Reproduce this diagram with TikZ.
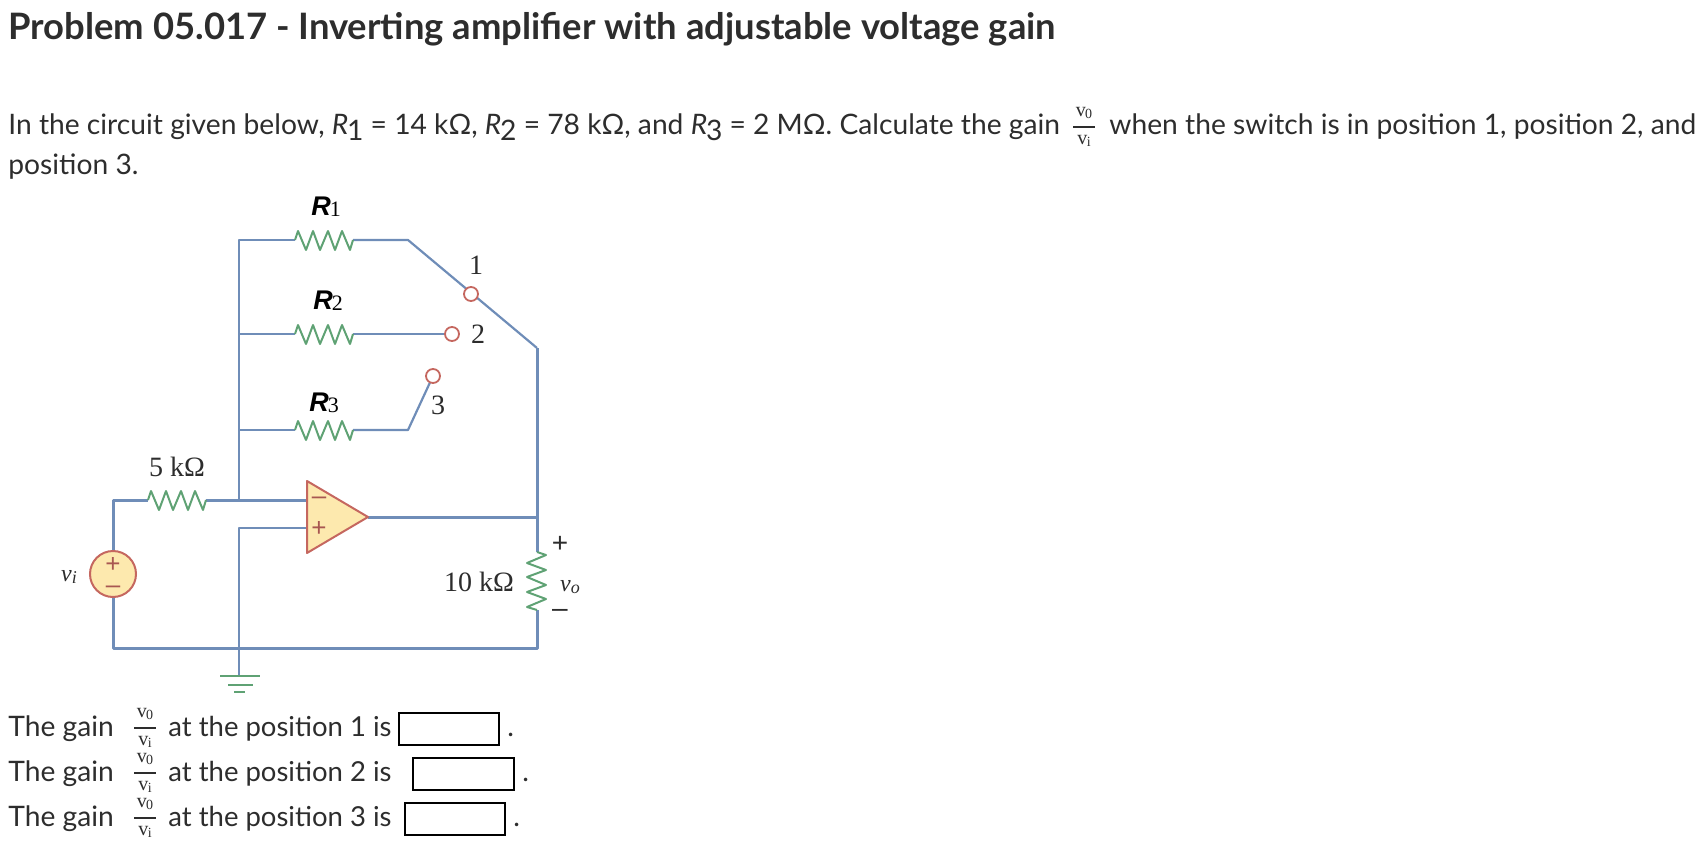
\documentclass[tikz,border=0pt]{standalone}
\usepackage{fontspec}
\setmainfont{Lato}
\newfontfamily\serifx{Liberation Serif}
\newfontfamily\sansx{Liberation Sans}
\definecolor{wire}{HTML}{6F8DB8}
\definecolor{res}{HTML}{5FA274}
\definecolor{term}{HTML}{C5675F}
\definecolor{fillc}{HTML}{FDE9AE}
\definecolor{txt}{HTML}{2D2D2D}
\newcommand{\sbx}[1]{\raisebox{-2.8pt}{#1}}
\newcommand{\Rx}[1]{\textit{R}\kern-0.6pt\sbx{#1}}
\newcommand{\gainfrac}[3]{%
  \node[rat] (#1a) at (#2,#3-14) {v\kern-0.3pt\raisebox{-1pt}{\fontsize{7}{7}\selectfont 0}};
  \node[rat] (#1b) at (#2,#3+14) {v\kern-0.3pt\raisebox{-1pt}{\fontsize{7}{7}\selectfont i}};
  \coordinate (#1m) at (#2,#3);
  \draw[txt,line width=0.7pt] ([xshift=-5.5pt]#1m) -- ([xshift=5.5pt]#1m);
}
\newcommand{\reszH}[2]{\draw[resz] (#1) -- ++(3,-9) -- ++(8,19) -- ++(7,-19) -- ++(7,19) -- ++(8,-19) -- ++(7,19) -- ++(7,-19) -- ++(8,19) -- (#2);}
\newcommand{\reszV}[2]{\draw[resz] (#1) -- ++(9,3) -- ++(-19,8) -- ++(19,7) -- ++(-19,7) -- ++(19,8) -- ++(-19,7) -- ++(19,7) -- ++(-19,8) -- (#2);}
\tikzset{
  x=0.5pt,y=-0.5pt,
  wirel/.style={draw=wire,line width=1.1pt,line join=round},
  wireb/.style={draw=wire,line width=1.5pt,line join=round},
  resz/.style={draw=res,line width=1pt,line join=round},
  termc/.style={circle,draw=term,line width=0.9pt,fill=white,minimum size=7pt,inner sep=0pt},
  body/.style={font=\fontsize{14.1}{14.1}\selectfont,text=txt,inner sep=0pt,anchor=base west},
  bodyb/.style={font=\fontsize{13.75}{13.75}\selectfont,text=txt,inner sep=0pt,anchor=base west},
  headl/.style={font=\fontsize{18.2}{18.2}\selectfont\bfseries,text=txt,inner sep=0pt,anchor=base west},
  ser/.style={font=\serifx\fontsize{14}{14}\selectfont,text=txt,inner sep=0pt},
  rlab/.style={font=\sansx\fontsize{13.5}{13.5}\selectfont\bfseries\itshape,text=black,inner sep=0pt},
  ansbox/.style={draw=black,line width=0.6pt,inner sep=0pt},
  rat/.style={font=\serifx\fontsize{10}{10}\selectfont,text=txt,inner sep=0pt},
  sign/.style={font=\sansx\fontsize{14}{14}\selectfont,text=txt,inner sep=0pt},
  redsign/.style={font=\sansx\fontsize{13}{10.5}\selectfont,text=term!85!black,inner sep=0pt}
}
\begin{document}
\begin{tikzpicture}
\useasboundingbox (0,0) rectangle (1706,850);
% texts
\node[headl] (title) at (8,40) {Problem 05.017 - Inverting amplifier with adjustable voltage gain};
\node[body] (l1) at (8,135) {In the circuit given below, \Rx{1} = 14 kΩ, \Rx{2} = 78 kΩ, and \Rx{3} = 2 MΩ. Calculate the gain};
\gainfrac{ft}{1084}{127}
\node[body] (l1b) at (1109,135) {when the switch is in position 1, position 2, and};
\node[body] (l2) at (8,175) {position 3.};
% coordinates
\coordinate (tl) at (239,240);
\coordinate (r1a) at (295,240); \coordinate (r1b) at (353,240); \coordinate (c1) at (408,240); \coordinate (c2) at (537,348);
\coordinate (ml) at (239,334); \coordinate (r2a) at (295,334); \coordinate (r2b) at (353,334);
\coordinate (bl) at (239,430); \coordinate (r3a) at (295,430); \coordinate (r3b) at (353,430); \coordinate (c3) at (408,430);
\coordinate (sa) at (113,500); \coordinate (r0a) at (148,500); \coordinate (r0b) at (206,500); \coordinate (jn) at (239,500);
\coordinate (inm) at (307,500); \coordinate (inp) at (307,528); \coordinate (pl) at (239,528);
\coordinate (ou) at (368,517); \coordinate (oj) at (537,517);
\coordinate (r4a) at (537,552); \coordinate (r4b) at (537,610);
\coordinate (br) at (537,648); \coordinate (bm) at (239,648); \coordinate (bs) at (113,648);
\coordinate (g0) at (239,676);
\node[circle,draw=term,line width=1pt,fill=fillc,minimum size=23pt,inner sep=0pt] (src) at (113,574) {};
% wires
\draw[wirel] (jn) -- (bl) -- (ml) -- (tl) -- (r1a);
\draw[wirel] (r1b) -- (c1) -- (c2);
\draw[wireb] (c2) -- (oj) -- (r4a);
\draw[wirel] (ml) -- (r2a); \draw[wirel] (r2b) -- (452,334);
\draw[wirel] (bl) -- (r3a); \draw[wirel] (r3b) -- (c3) -- (433,376);
\draw[wireb] (src) -- (sa) -- (r0a); \draw[wireb] (r0b) -- (inm);
\draw[wirel] (inp) -- (pl) -- (bm) -- (g0);
\draw[wireb] (ou) -- (oj);
\draw[wireb] (r4b) -- (br) -- (bs) -- (src);
% terminals over wires
\node[termc] (t1) at (471,294) {};
\node[termc] (t2) at (452,334) {};
\node[termc] (t3) at (433,376) {};
% resistors
\reszH{r1a}{r1b}
\reszH{r2a}{r2b}
\reszH{r3a}{r3b}
\reszH{r0a}{r0b}
\reszV{r4a}{r4b}
% ground
\draw[res,line width=1pt] (220,676) -- (260,676) (228,685) -- (253,685) (234,692) -- (245,692);
% opamp
\draw[draw=term,line width=1pt,fill=fillc,line join=round] (307,481) -- (ou) -- (307,553) -- cycle;
\node[redsign] (om) at (319,501) {–};
\node[redsign] (op) at (319,529) {+};
\node[redsign,align=center] (sg) at (113,575) {+\\–};
% labels
\node[rlab] (lr1) at (326,207) {R\kern-0.5pt\raisebox{-0.5pt}{\serifx\mdseries\upshape\fontsize{11}{11}\selectfont 1}};
\node[rlab] (lr2) at (328,301) {R\kern-0.5pt\raisebox{-0.5pt}{\serifx\mdseries\upshape\fontsize{11}{11}\selectfont 2}};
\node[rlab] (lr3) at (324,403) {R\kern-0.5pt\raisebox{-0.5pt}{\serifx\mdseries\upshape\fontsize{11}{11}\selectfont 3}};
\node[ser] (n1) at (476,265) {1};
\node[ser] (n2) at (478,334) {2};
\node[ser] (n3) at (438,405) {3};
\node[ser] (k5) at (177,467) {5 kΩ};
\node[ser] (k10) at (479,582) {10 kΩ};
\node[ser,font=\serifx\itshape\fontsize{12}{12}\selectfont] (lvi) at (69,577) {v\raisebox{-1pt}{\fontsize{9}{9}\selectfont i}};
\node[ser,font=\serifx\itshape\fontsize{12}{12}\selectfont] (lvo) at (570,587) {v\raisebox{-1pt}{\fontsize{9}{9}\selectfont o}};
\node[sign] (vp) at (560,544) {+};
\node[sign] (vm) at (560,613) {–};
% answers
\node[body] (a1) at (8,736) {The gain};
\gainfrac{fa}{145}{728}
\node[bodyb] (a1b) at (168,736) {at the position 1 is};
\draw[ansbox] (399,713) rectangle (499,745);
\node[body] (a1c) at (507,736) {.};
\node[body] (a2) at (8,781) {The gain};
\gainfrac{fb}{145}{773}
\node[bodyb] (a2b) at (168,781) {at the position 2 is};
\draw[ansbox] (413,758) rectangle (514,790);
\node[body] (a2c) at (522,781) {.};
\node[body] (a3) at (8,826) {The gain};
\gainfrac{fc}{145}{818}
\node[bodyb] (a3b) at (168,826) {at the position 3 is};
\draw[ansbox] (405,803) rectangle (505,835);
\node[body] (a3c) at (513,826) {.};
\end{tikzpicture}
\end{document}
